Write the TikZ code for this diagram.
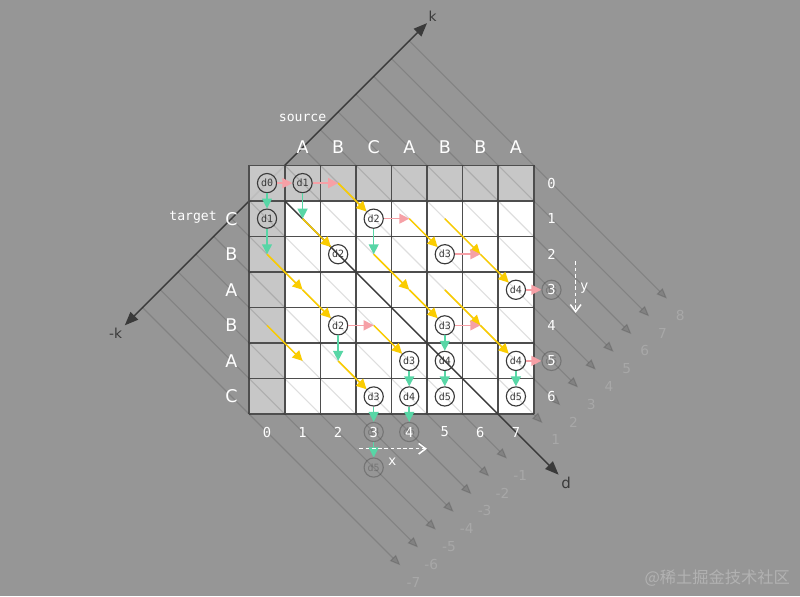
\documentclass[tikz,border=0pt]{standalone}
\usepackage{fontspec}
\setmainfont{DejaVu Sans}
\setmonofont{DejaVu Sans Mono}
\newfontfamily\cjkfont{Noto Sans CJK SC}
\usetikzlibrary{arrows.meta}
\definecolor{bggray}{RGB}{150,150,150}
\definecolor{cellgray}{RGB}{206,206,206}
\definecolor{gridgray}{RGB}{78,78,78}
\definecolor{axisgray}{RGB}{58,58,58}
\definecolor{klabelgray}{RGB}{168,168,168}
\definecolor{markgray}{RGB}{178,178,178}
\definecolor{insertpink}{RGB}{246,160,166}
\definecolor{deletegreen}{RGB}{88,214,166}
\definecolor{snakeyellow}{RGB}{250,204,0}
\begin{document}
\begin{tikzpicture}[
  axis/.style={axisgray, line width=1.1pt},
  kline/.style={black, opacity=0.13, line width=0.9pt, -{Triangle[length=3mm,width=2.4mm]}},
  klabel/.style={klabelgray, font=\fontsize{11}{11}\selectfont},
  hop/.style={line width=1.2pt, -{Triangle[length=2.8mm,width=2.8mm]}},
  dpt/.style={circle, draw=axisgray, line width=0.9pt, minimum size=0.54cm, inner sep=0pt, text=axisgray, font=\ttfamily\fontsize{8}{8}\selectfont},
  ghost/.style={dpt, opacity=0.35},
  letter/.style={white, font=\fontsize{14}{14}\selectfont},
  num/.style={white, font=\ttfamily\fontsize{11}{11}\selectfont},
  hint/.style={white, line width=1.2pt, dash pattern=on 3pt off 2pt, -{Straight Barb[length=2mm,width=3mm]}}]
\useasboundingbox (-7.51,5.15) rectangle (14.99,-11.62);
\fill[bggray] (-7.51,5.15) rectangle (14.99,-11.62);
\foreach \i in {0,...,8} \foreach \j in {0,...,8} \coordinate (p\i\j) at (\i,-\j);
\coordinate (kneg) at (-4,-4); \coordinate (kpos) at (4.5,4.5); \coordinate (dtip) at (8.2,-8.2);
\draw[axis, {Triangle[length=3.8mm,width=3mm]}-{Triangle[length=3.8mm,width=3mm]}] (kneg) -- (kpos);
\node[axisgray, anchor=south west, inner sep=1pt, font=\fontsize{11}{11}\selectfont] (klab) at (kpos) {k};
\node[axisgray, anchor=north east, inner sep=2pt, font=\fontsize{11}{11}\selectfont] (nklab) at (kneg) {-k};
\fill[white] (0.5,-0.5) rectangle (7.5,-6.5);
\fill[cellgray, fill opacity=0.88] (-0.5,0.5) rectangle (7.5,-0.5) (-0.5,-0.5) rectangle (0.5,-6.5);
\foreach \i in {0,...,8} \draw[gridgray, line width=1.3pt] (\i-0.5,0.5) -- (\i-0.5,-6.5);
\foreach \j in {0,...,7} \draw[gridgray, line width=1.3pt] (-0.5,-\j+0.5) -- (7.5,-\j+0.5);
\foreach \k in {-7,-6,-5,-4,-3,-2,-1,1,2,3,4,5,6,7,8} {
  \coordinate (ka\k) at (\k/2,\k/2); \coordinate (kb\k) at (\k/2+7.25,\k/2-7.25);
  \draw[kline] (ka\k) -- (kb\k); \node[klabel] (kl\k) at (\k/2+7.62,\k/2-7.72) {\k};}
\draw[axis, shorten <=0.707cm, -{Triangle[length=3.8mm,width=3mm]}] (p00) -- (dtip);
\node[axisgray, anchor=north west, inner sep=2pt, font=\fontsize{12}{12}\selectfont] (dlab) at (dtip) {d};
\foreach \i/\j/\d in {0/0/0,1/0/1,0/1/1,3/1/2,2/2/2,2/4/2,5/2/3,5/4/3,4/5/3,3/6/3,7/3/4,7/5/4,5/5/4,4/6/4,5/6/5,7/6/5}
  \node[dpt] (d\i\j) at (p\i\j) {d\d};
\foreach \i/\j/\d in {8/3/5,8/5/5,3/7/4,4/7/5,3/8/5} \node[ghost] (d\i\j) at (p\i\j) {d\d};
\foreach \a/\b in {p20/d31,p11/d22,p41/d52,p51/p62,p62/d73,p02/p13,p13/d24,p32/p43,p43/d54,p53/p64,p64/d75,p04/p15,p34/d45,p25/d36}
  \draw[hop, snakeyellow] (\a) -- (\b);
\foreach \a/\b in {d00/d10,d10/p20,d31/p41,d52/p62,d24/p34,d54/p64,d73/d83,d75/d85}
  \draw[hop, insertpink] (\a) -- (\b);
\foreach \a/\b in {d00/d01,d01/p02,d10/p11,d31/p32,d24/p25,d54/d55,d55/d56,d45/d46,d46/d47,d36/d37,d37/d38,d75/d76}
  \draw[hop, deletegreen] (\a) -- (\b);
\foreach \c [count=\i] in {A,B,C,A,B,B,A} \node[letter] (src\i) at (\i,1) {\c};
\foreach \c [count=\j] in {C,B,A,B,A,C} \node[letter] (tgt\j) at (-1,-\j) {\c};
\foreach \i in {0,...,7} \node[num] (col\i) at (\i,-7) {\i};
\foreach \j in {0,...,6} \node[num] (row\j) at (8,-\j) {\j};
\node[white, font=\ttfamily\fontsize{10.5}{10.5}\selectfont] (source) at (1,1.83) {source};
\node[white, font=\ttfamily\fontsize{10.5}{10.5}\selectfont] (target) at (-2.08,-0.97) {target};
\coordinate (ya) at (8.68,-2.2); \coordinate (yb) at (8.68,-3.65); \draw[hint] (ya) -- (yb);
\node[num] (ylab) at (8.92,-2.95) {y};
\coordinate (xa) at (2.6,-7.47); \coordinate (xb) at (4.5,-7.47); \draw[hint] (xa) -- (xb);
\node[num] (xlab) at (3.52,-7.85) {x};
\node[markgray, font=\cjkfont\fontsize{13}{13}\selectfont] (mark) at (12.66,-11.11) {@稀土掘金技术社区};
\end{tikzpicture}
\end{document}
